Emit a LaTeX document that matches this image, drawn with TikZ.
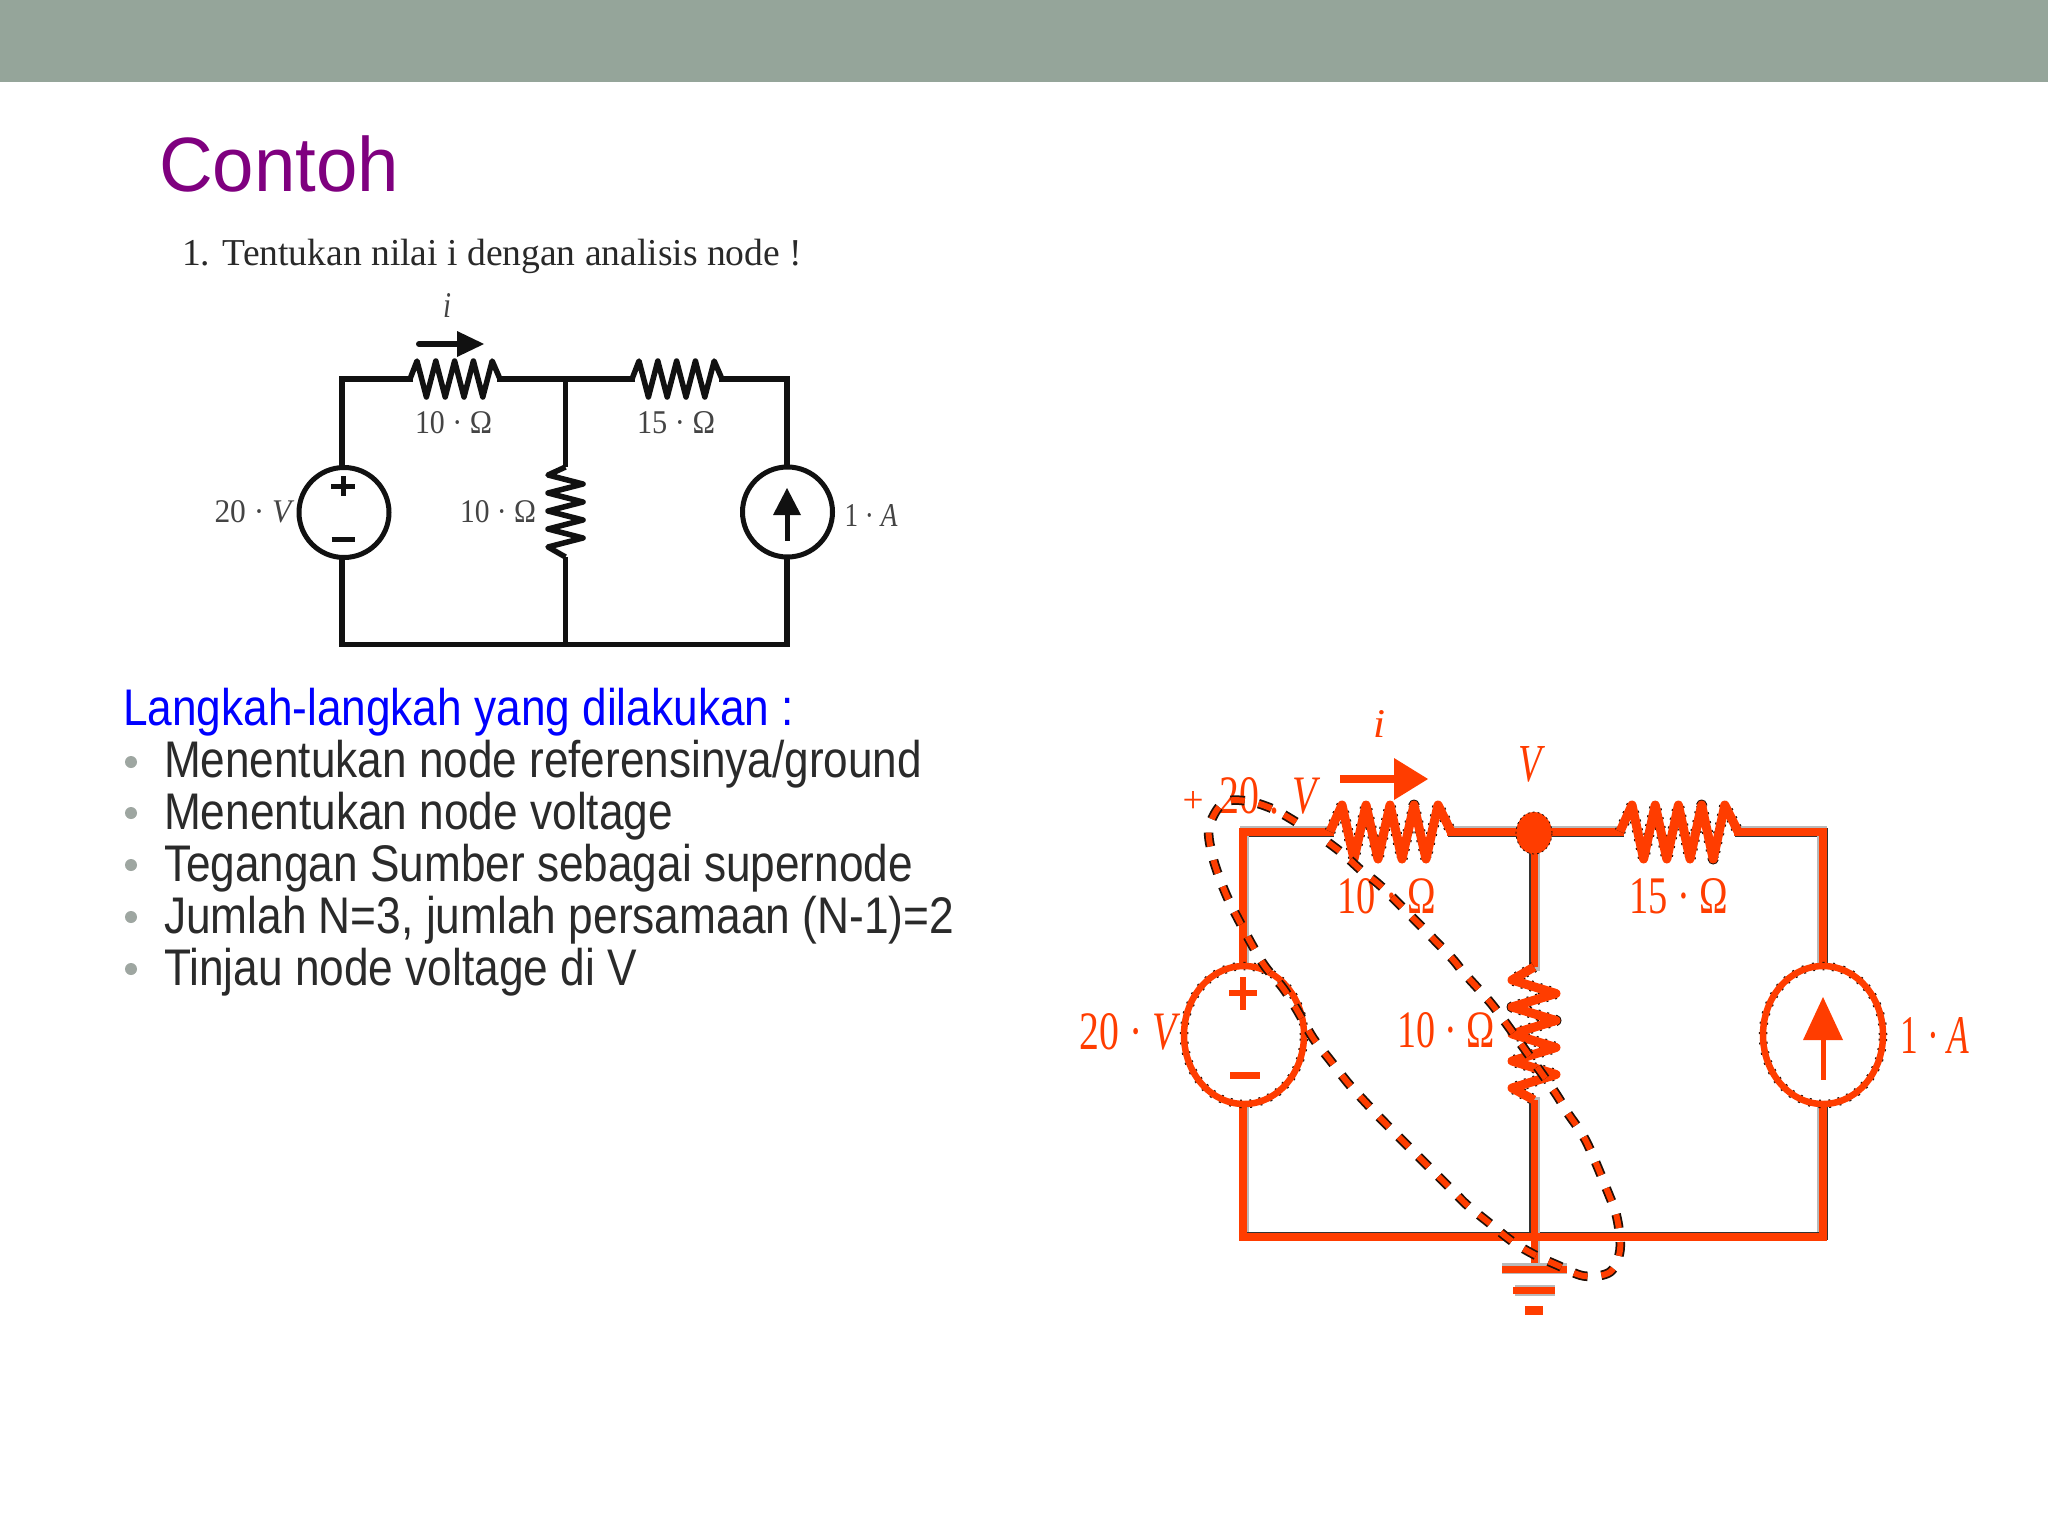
\documentclass[tikz,border=0pt]{standalone}
\usepackage{fontspec}
\usepackage{graphicx}
\setmainfont{Liberation Serif}
\newfontfamily\slidesans{Liberation Sans}
\usetikzlibrary{shapes.geometric}
\definecolor{barc}{HTML}{95A59A}
\definecolor{purp}{HTML}{7F007F}
\definecolor{bodyc}{HTML}{2A2A2A}
\definecolor{bulc}{HTML}{9EA6A1}
\definecolor{redc}{HTML}{FF3D00}
\definecolor{inkc}{HTML}{111111}
\definecolor{labc}{HTML}{444444}
\definecolor{dashd}{HTML}{201008}
\newcommand{\sline}[2]{\resizebox{#1pt}{\height}{\fontsize{51.5}{52}\slidesans #2}}
\newcommand{\blab}[3]{\resizebox{#1pt}{#2pt}{\fontsize{33}{33}\selectfont #3}}
\newcommand{\rlab}[3]{\resizebox{#1pt}{#2pt}{\fontsize{54}{54}\selectfont #3}}
\tikzset{
  x=1pt,y=-1pt,
  txt/.style={anchor=base west,inner sep=0pt,outer sep=0pt},
  lab/.style={anchor=center,inner sep=0pt,outer sep=0pt},
  bullet/.style={circle,fill=bulc,minimum size=12pt,inner sep=0pt},
  bwire/.style={draw=inkc,line width=5.5pt,line cap=rect,line join=miter},
  bres/.style={draw=inkc,line width=5.5pt,line join=round},
  bsrc/.style={circle,draw=inkc,line width=5pt,minimum size=90pt,inner sep=0pt,fill=white},
  rwire/.style={draw=redc,line width=8pt,line cap=rect},
  rlight/.style={draw=gray!55,line width=7pt,line cap=rect},
  rdark/.style={draw=gray!40!black,line width=7pt,line cap=rect},
  rdots/.style={draw=dashd,line width=11pt,line join=round,dash pattern=on 2pt off 7pt},
  rres/.style={draw=redc,line width=9pt,line join=round},
  rsrc/.style={ellipse,draw=redc,line width=6.5pt,minimum width=120pt,minimum height=138pt,inner sep=0pt,
    preaction={fill=white},preaction={draw=dashd,line width=8.5pt,dash pattern=on 2pt off 8pt}},
  dashk/.style={draw=dashd,line width=9.5pt,dash pattern=on 14pt off 14pt},
  dashr/.style={draw=redc,line width=6pt,dash pattern=on 14pt off 14pt},
}
\begin{document}
\begin{tikzpicture}
\useasboundingbox (0,0) rectangle (2048,1536);
\fill[white] (0,0) rectangle (2048,1536);
\fill[barc] (0,0) rectangle (2048,82);

% Title and text
\node[txt] (title) at (159,191) {\resizebox{240pt}{\height}{\fontsize{77}{77}\slidesans\color{purp}Contoh}};
\node[txt] (task) at (182,265) {\resizebox{620pt}{\height}{\fontsize{38}{38}\selectfont\color{labc!60!black}1. Tentukan nilai i dengan analisis node !}};
\node[txt] (steps) at (123,725) {\color{blue}\sline{671}{Langkah-langkah yang dilakukan :}};
\node[txt] (s1) at (164,777) {\color{bodyc}\sline{758}{Menentukan node referensinya/ground}};
\node[txt] (s2) at (164,829) {\color{bodyc}\sline{509}{Menentukan node voltage}};
\node[txt] (s3) at (164,881) {\color{bodyc}\sline{749}{Tegangan Sumber sebagai supernode}};
\node[txt] (s4) at (164,933) {\color{bodyc}\sline{790}{Jumlah N=3, jumlah persamaan (N-1)=2}};
\node[txt] (s5) at (164,985) {\color{bodyc}\sline{473}{Tinjau node voltage di V}};
\node[bullet] (b1) at (131,762) {};
\node[bullet] (b2) at (131,813) {};
\node[bullet] (b3) at (131,865) {};
\node[bullet] (b4) at (131,917) {};
\node[bullet] (b5) at (131,969) {};

% Black circuit
\coordinate (ktl) at (342,379);
\coordinate (ktr) at (787,379);
\coordinate (kbl) at (342,644.5);
\coordinate (kbr) at (787,644.5);
\coordinate (ktm) at (565.5,379);
\coordinate (kbm) at (565.5,644.5);
\coordinate (kr1a) at (410,379);
\coordinate (kr1b) at (500,379);
\coordinate (kr2a) at (632,379);
\coordinate (kr2b) at (722,379);
\coordinate (kr3a) at (565.5,467);
\coordinate (kr3b) at (565.5,557);
\path[bwire] (kr1a) -- (ktl) -- (kbl) -- (kbr) -- (ktr) -- (kr2b);
\path[bwire] (kr1b) -- (kr2a);
\path[draw=inkc,line width=5pt] (ktm) -- (kr3a);
\path[draw=inkc,line width=5pt] (kr3b) -- (kbm);
\node[bsrc] (ks1) at (344,512.5) {};
\node[bsrc] (ks2) at (787.5,512) {};
\draw[bres] (kr1a) -- ++(7,-18) \foreach \k in {1,2,3,4}{ -- ++(9.4,36) -- ++(9.4,-36)} -- (kr1b);
\draw[bres] (kr2a) -- ++(7,-18) \foreach \k in {1,2,3,4}{ -- ++(9.4,36) -- ++(9.4,-36)} -- (kr2b);
\draw[bres] (kr3a) -- (548,475) \foreach \k in {1,2,3,4}{ -- ++(35,9) -- ++(-35,9)} -- (kr3b);
% source marks
\draw[inkc,line width=5pt] (331,486) -- (355,486) (343,476) -- (343,496);
\draw[inkc,line width=5pt] (331.5,539) -- (354.5,539);
\fill[inkc] (787,488) -- (801,515) -- (773,515) -- cycle;
\draw[inkc,line width=5pt] (787,510) -- (787,541);
% current arrow
\draw[inkc,line width=6pt,line cap=round] (419,344) -- (460,344);
\fill[inkc] (457,331) -- (484,344) -- (457,357) -- cycle;
\node[lab] (ki) at (447,305) {\resizebox{8pt}{24pt}{\fontsize{33}{33}\selectfont\color{labc}\textit{i}}};
\node[lab] (kl1) at (453.5,423) {\color{labc}\blab{77}{22}{10 · Ω}};
\node[lab] (kl2) at (676,423) {\color{labc}\blab{78}{22}{15 · Ω}};
\node[lab] (kl3) at (498,511.5) {\color{labc}\blab{76}{22}{10 · Ω}};
\node[lab] (kl4) at (254.5,512) {\color{labc}\blab{80}{22}{20 · \textit{V}}};
\node[lab] (kl5) at (871,515) {\color{labc}\blab{53}{22}{1 · \textit{A}}};

% Red circuit
\coordinate (rtl) at (1243,831.5);
\coordinate (rtr) at (1823,831.5);
\coordinate (rbl) at (1243,1236.5);
\coordinate (rbr) at (1823,1236.5);
\coordinate (rtm) at (1534,831.5);
\coordinate (rbm) at (1534,1236.5);
\coordinate (rr1a) at (1330,831.5);
\coordinate (rr1b) at (1451,831.5);
\coordinate (rr2a) at (1620,831.5);
\coordinate (rr2b) at (1738,831.5);
\coordinate (rr3a) at (1534,967);
\coordinate (rr3b) at (1534,1100);
\coordinate (rgnd) at (1534,1269.5);
% grey edges of the wires
\path[rlight] ([yshift=2.5pt]rtl) -- ([yshift=2.5pt]rr1a);
\path[rlight] ([yshift=2.5pt]rr1b) -- ([yshift=2.5pt]rr2a);
\path[rlight] ([yshift=2.5pt]rr2b) -- ([yshift=2.5pt]rtr);
\path[rdark] ([yshift=-1.5pt]rtl) -- ([yshift=-1.5pt]rr1a);
\path[rdark] ([yshift=-1.5pt]rr1b) -- ([yshift=-1.5pt]rr2a);
\path[rdark] ([yshift=-1.5pt]rr2b) -- ([yshift=-1.5pt]rtr);
\path[rlight] ([xshift=2.5pt]rtl) -- ([xshift=2.5pt]rbl);
\path[rdark] ([xshift=1.5pt]rtr) -- ([xshift=1.5pt]rbr);
\path[rlight] ([xshift=-2.5pt]rtr) -- ([xshift=-2.5pt]rbr);
\path[rdark] ([yshift=1.5pt]rbl) -- ([yshift=1.5pt]rbr);
\path[rdark] ([xshift=-2pt]rtm) -- ([xshift=-2pt]rr3a);
\path[rlight] ([xshift=2pt]rtm) -- ([xshift=2pt]rr3a);
\path[rdark] ([xshift=-2pt]rr3b) -- ([xshift=-2pt]rbm);
\path[rlight] ([xshift=2pt]rr3b) -- ([xshift=2pt]rgnd);
% red wires
\path[rwire] (rr1a) -- (rtl) -- (rbl) -- (rbr) -- (rtr) -- (rr2b);
\path[rwire] (rr1b) -- (rr2a);
\path[draw=redc,line width=7pt] (rtm) -- (rr3a);
\path[draw=redc,line width=7pt] (rr3b) -- (rgnd);
\node[rsrc] (rs1) at (1244,1035) {};
\node[rsrc] (rs2) at (1823,1035) {};
\foreach \st in {rdots,rres}{
  \draw[\st] (rr1a) -- ++(12,-26.5) \foreach \k in {1,2,3,4}{ -- ++(12,54) -- ++(12,-54)} -- (rr1b);
  \draw[\st] (rr2a) -- ++(12,-26.5) \foreach \k in {1,2,3,4}{ -- ++(11.6,54) -- ++(11.6,-54)} -- (rr2b);
  \draw[\st] (rr3a) -- (1512,980) \foreach \k in {1,2,3,4}{ -- ++(44,13.5) -- ++(-44,13.5)} -- (rr3b);
}
\node[ellipse,fill=redc,inner sep=0pt,minimum width=36pt,minimum height=42pt,draw=dashd,line width=0.8pt,dash pattern=on 2pt off 3pt] (rv) at (1534,833) {};
% source marks
\draw[redc,line width=6pt] (1229,993) -- (1257,993) (1243,977) -- (1243,1010);
\draw[redc,line width=7pt] (1230,1075) -- (1260,1075);
\fill[redc] (1823,997) -- (1843,1040) -- (1803,1040) -- cycle;
\draw[redc,line width=5pt] (1823,1035) -- (1823,1080);
% current arrow
\draw[redc,line width=8pt] (1340,779) -- (1398,779);
\fill[redc] (1394,758) -- (1428,779) -- (1394,800) -- cycle;
% ground
\path[draw=gray!55,line width=11pt] (1502,1268) -- (1567,1268);
\path[draw=gray!55,line width=11pt] (1515,1290) -- (1555,1290);
\draw[redc,line width=7pt] (1502,1269.5) -- (1567,1269.5);
\draw[redc,line width=7pt] (1513,1290) -- (1555,1290);
\draw[redc,line width=9pt] (1525,1310) -- (1543,1310);
% labels
\node[lab] (ri) at (1379,724) {\color{redc}\rlab{12}{27}{\textit{i}}};
\node[lab] (rvl) at (1532,764) {\color{redc}\rlab{27}{35}{\textit{V}}};
\node[lab] (rpl) at (1193,802) {\color{redc}\rlab{21}{21}{+}};
\node[lab] (r20) at (1270,796) {\color{redc}\rlab{101}{36}{20 . \textit{V}}};
\node[lab] (rl1) at (1387,896) {\color{redc}\rlab{99}{35}{10 · Ω}};
\node[lab] (rl2) at (1678.5,896) {\color{redc}\rlab{99}{35}{15 · Ω}};
\node[lab] (rl3) at (1446,1030.5) {\color{redc}\rlab{98}{35}{10 · Ω}};
\node[lab] (rl4) at (1130,1032) {\color{redc}\rlab{101}{36}{20 · \textit{V}}};
\node[lab] (rl5) at (1935,1035) {\color{redc}\rlab{69}{36}{1 · \textit{A}}};

% dashed loop
\coordinate (da) at (1296,822);
\coordinate (dc) at (1322,838);
\foreach \st in {dashk,dashr}{
  \draw[\st] plot[smooth,tension=0.55] coordinates {(da) (1273,809) (1247,801) (1223,803) (1209,828) (1213,858) (1223,887) (1235,913) (1262,962) (1283,988) (1297,1010) (1313,1038) (1330,1060) (1348,1083) (1367,1104) (1387,1125) (1450,1188) (1467,1205) (1488,1222) (1513,1242) (1535,1255) (1557,1265) (1584,1276) (1610,1272) (1620,1250) (1617,1218) (1607,1190) (1586,1141) (1567,1112) (1552,1088) (1500,1015) (1482,993) (1463,972) (1447,953) (1385,890) (1363,872) (1342,853) (dc)};
}
\end{tikzpicture}
\end{document}
